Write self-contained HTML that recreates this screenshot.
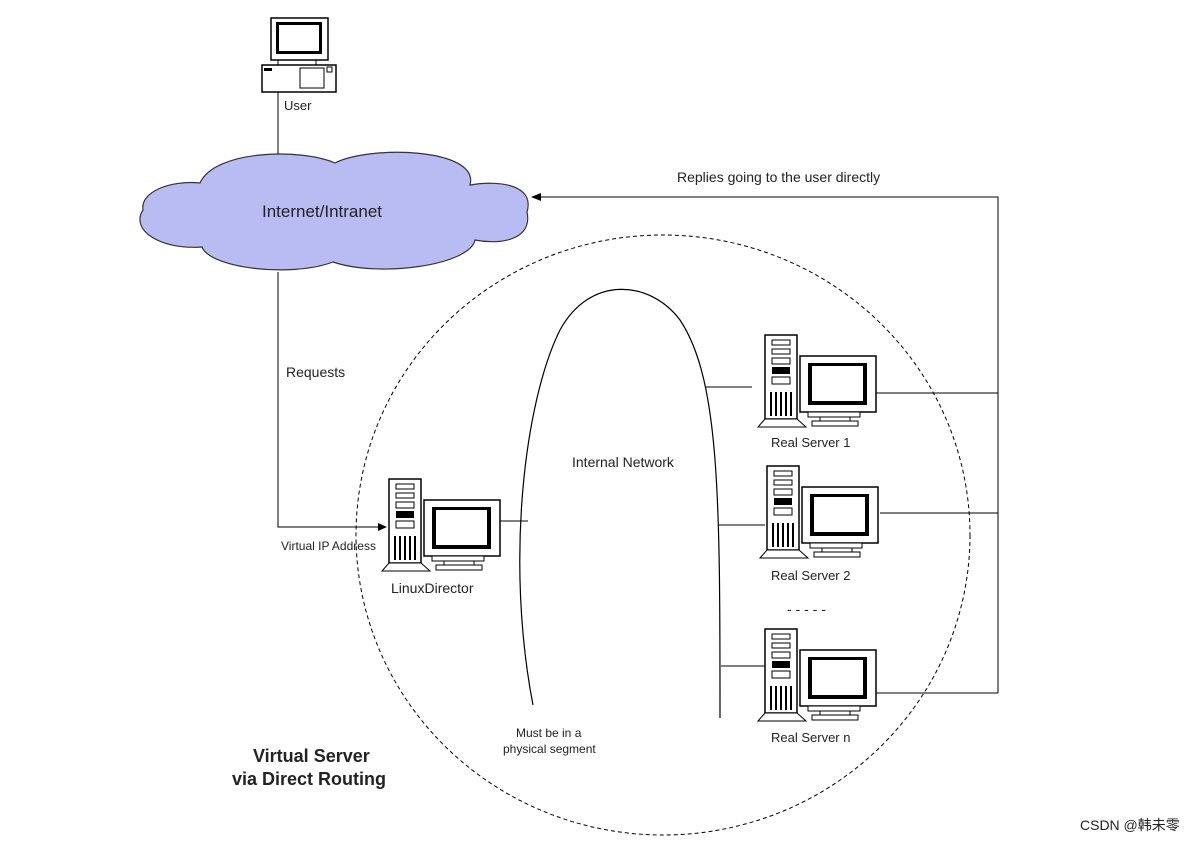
<!DOCTYPE html>
<html><head><style>
body{margin:0;background:#fff;}
svg text{font-family:"Liberation Sans",Arial,sans-serif;fill:#222;}
</style></head><body>
<svg width="1196" height="842" viewBox="0 0 1196 842" xmlns="http://www.w3.org/2000/svg">
<defs>
<g id="srv">
 <!-- tower 0..45 x 0..95 -->
 <rect x="1" y="1" width="32" height="84" fill="#fff" stroke="#000" stroke-width="1.5"/>
 <rect x="8" y="6" width="18" height="5" fill="#fff" stroke="#000"/>
 <rect x="8" y="15" width="18" height="5" fill="#fff" stroke="#000"/>
 <rect x="8" y="24" width="18" height="6" fill="#fff" stroke="#000"/>
 <rect x="8" y="33" width="18" height="7" fill="#000"/>
 <rect x="8" y="43" width="18" height="7" fill="#fff" stroke="#000"/>
 <g stroke="#000" stroke-width="2">
  <line x1="7" y1="58" x2="7" y2="82"/><line x1="12" y1="58" x2="12" y2="82"/><line x1="17" y1="58" x2="17" y2="82"/><line x1="22" y1="58" x2="22" y2="82"/><line x1="27" y1="58" x2="27" y2="82"/>
 </g>
 <polygon points="-6,93 1,85 33,85 42,93" fill="#fff" stroke="#000"/>
 <!-- monitor -->
 <rect x="36" y="22" width="76" height="56" fill="#fff" stroke="#000" stroke-width="1.5"/>
 <rect x="44" y="29" width="59" height="42" fill="#000"/>
 <rect x="48" y="32" width="51" height="35" fill="#fff"/>
 <rect x="44" y="78" width="52" height="5" fill="#fff" stroke="#000"/>
 <rect x="56" y="83" width="30" height="4" fill="#fff" stroke="#000"/>
 <rect x="48" y="87" width="46" height="5" fill="#fff" stroke="#000"/>
</g>
</defs>

<!-- User PC -->
<rect x="271" y="18" width="57" height="42" fill="#fff" stroke="#000" stroke-width="1.5"/>
<rect x="276" y="22" width="46" height="32" fill="#000"/>
<rect x="279" y="25" width="40" height="26" fill="#fff"/>
<rect x="262" y="65" width="74" height="27" fill="#fff" stroke="#000" stroke-width="1.5"/>
<rect x="264" y="68" width="8" height="3" fill="#000"/>
<rect x="300" y="68" width="24" height="20" fill="#fff" stroke="#000"/>
<rect x="327" y="67" width="5" height="5" fill="#fff" stroke="#000"/>
<line x1="278" y1="60" x2="300" y2="60" stroke="#000"/><line x1="278" y1="60" x2="278" y2="65" stroke="#000"/><line x1="316" y1="60" x2="316" y2="65" stroke="#000"/>
<text x="284" y="110" font-size="13">User</text>

<!-- lines -->
<g stroke="#000" stroke-width="1" fill="none">
 <line x1="278" y1="92" x2="278" y2="154"/>
 <polyline points="278,272 278,527 380,527"/>
 <polyline points="998,693 998,197 540,197"/>
 <line x1="873" y1="393" x2="998" y2="393"/>
 <line x1="880" y1="513" x2="998" y2="513"/>
 <line x1="876" y1="693" x2="998" y2="693"/>
 <line x1="706" y1="387" x2="752" y2="387"/>
 <line x1="719" y1="525" x2="765" y2="525"/>
 <line x1="721" y1="666" x2="765" y2="666"/>
 <line x1="497" y1="521" x2="528" y2="521"/>
</g>
<polygon points="387,527 378,523 378,531" fill="#000"/>
<polygon points="531,197 541,193 541,201" fill="#000"/>

<!-- cloud -->
<path d="M200,183 C215,150 300,148 335,163 C370,145 480,148 470,185 C500,180 535,185 527,212 C533,240 500,245 475,240 C470,265 380,278 333,262 C290,278 210,268 202,247 C160,250 130,230 143,210 C140,192 170,180 200,183 Z" fill="#b9bcf3" stroke="#333" stroke-width="1.2"/>
<text x="262" y="217" font-size="17">Internet/Intranet</text>

<!-- dashed circle -->
<ellipse cx="663" cy="535" rx="307" ry="300" fill="none" stroke="#000" stroke-dasharray="4,3"/>

<!-- internal network -->
<path d="M533,705 C505,560 525,400 560,330 C590,275 650,280 680,320 C720,380 720,500 720,718" fill="none" stroke="#000" stroke-width="1.2"/>
<text x="572" y="467" font-size="14">Internal Network</text>

<use href="#srv" x="388" y="478"/>
<use href="#srv" x="764" y="334"/>
<use href="#srv" x="766" y="465"/>
<use href="#srv" x="764" y="628"/>

<text x="286" y="377" font-size="14">Requests</text>
<text x="677" y="182" font-size="14">Replies going to the user directly</text>
<text x="281" y="550" font-size="12">Virtual IP Address</text>
<text x="391" y="593" font-size="14">LinuxDirector</text>
<text x="771" y="447" font-size="13">Real Server 1</text>
<text x="771" y="580" font-size="13">Real Server 2</text>
<text x="787" y="614" font-size="14">- - - - -</text>
<text x="771" y="742" font-size="13">Real Server n</text>
<text x="516" y="737" font-size="12">Must be in a</text>
<text x="503" y="753" font-size="12">physical segment</text>
<text x="253" y="762" font-size="18" font-weight="bold">Virtual Server</text>
<text x="232" y="785" font-size="18" font-weight="bold">via Direct Routing</text>
<text x="1080" y="830" font-size="14" style="font-family:'Liberation Sans','Noto Sans CJK SC',sans-serif" fill="#666">CSDN @韩未零</text>
</svg>
</body></html>
